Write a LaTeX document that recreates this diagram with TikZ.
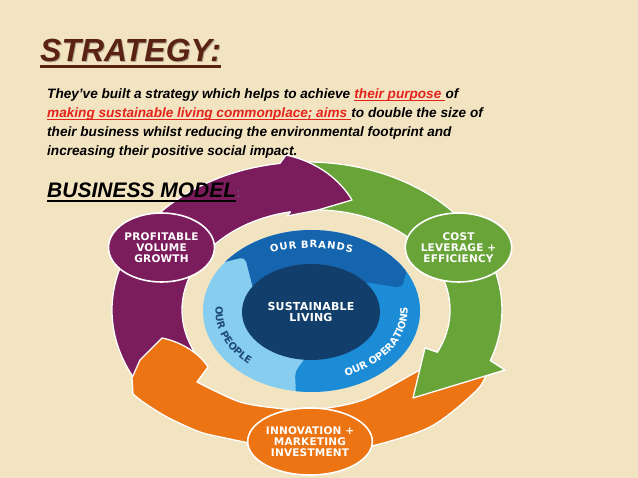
\documentclass[tikz,border=0pt]{standalone}
\usepackage{fontspec}
\setmainfont{Liberation Sans}
\newfontfamily\lab[LetterSpace=2]{DejaVu Sans}
\newfontfamily\dv{DejaVu Sans}
\usetikzlibrary{decorations.text,shapes.geometric,calc}
\definecolor{bg}{HTML}{F2E3C1}
\definecolor{titleC}{HTML}{5A2213}
\definecolor{redT}{HTML}{E5231B}
\definecolor{purpleC}{HTML}{7B1C5C}
\definecolor{greenC}{HTML}{69A438}
\definecolor{orangeC}{HTML}{EC7412}
\definecolor{darkB}{HTML}{1565AE}
\definecolor{medB}{HTML}{1C8CD6}
\definecolor{lightB}{HTML}{86CDEF}
\definecolor{navyB}{HTML}{123E6B}
\definecolor{peopleT}{HTML}{1F4A78}
\begin{document}
\begin{tikzpicture}[x=1pt,y=1pt,
  band/.style={draw=white, line width=1.3pt, line join=round},
  bubble/.style={ellipse, draw=white, line width=1.6pt, minimum width=106pt, minimum height=69pt, inner sep=0pt,
     text=white, align=center, font=\lab\bfseries\fontsize{10.5}{11}\selectfont},
  bodytext/.style={anchor=base west, inner sep=0pt, font=\fontsize{13.6}{19}\selectfont\bfseries\itshape},
  redtext/.style={bodytext, text=redT},
  redline/.style={redT, line width=0.9pt},
  titlefont/.style={anchor=base west, inner sep=0pt, font=\fontsize{32}{36}\selectfont\bfseries\itshape}]
\useasboundingbox (0,0) rectangle (638,478);
\fill[bg] (0,0) rectangle (638,478);

\coordinate (Oo) at (307,168);
\coordinate (Oi) at (316,168);
\coordinate (Rc) at (311.5,167);

% green arrow
\path[band, fill=greenC] ($(Oo)+(95:195 and 148)$) arc[start angle=95, end angle=-20, x radius=195, y radius=148]
  -- (505,108) -- (413,80) -- (425,130) -- ($(Oi)+(-25:134 and 100)$)
  arc[start angle=-25, end angle=95, x radius=134, y radius=100] -- cycle;

% purple arrow
\path[band, fill=purpleC] ($(Oo)+(215:195 and 148)$) arc[start angle=215, end angle=98, x radius=195, y radius=148]
  -- (286,323) .. controls (318,316) and (340,298) .. (352,278) -- (318,268) -- (287,262)
  -- ($(Oi)+(101:134 and 100)$) arc[start angle=101, end angle=213, x radius=134, y radius=100] -- cycle;

% orange arrow
\path[band, fill=orangeC] plot[smooth] coordinates {(487,107) (477,88) (430,51) (363,30) (310,26) (260,33) (230,39) (200,46) (167,61) (143,76) (133,84)}
  -- (132,100) -- (140,118) -- (162,140) .. controls (182,136) and (200,124) .. (208,111)
  -- plot[smooth] coordinates {(197,96) (217,86) (240,76) (267,71) (310,68) (363,78) (420,108) (440,116)} -- cycle;

% green head on top
\fill[greenC] ($(Oo)+(-14:195 and 148)$) arc[start angle=-14, end angle=-20, x radius=195, y radius=148]
  -- (505,108) -- (413,80) -- (425,130) -- ($(Oi)+(-25:134 and 100)$)
  arc[start angle=-25, end angle=-19, x radius=134, y radius=100] -- cycle;
\draw[white, line width=1.3pt, line join=round] ($(Oo)+(-14:195 and 148)$) arc[start angle=-14, end angle=-20, x radius=195, y radius=148]
  -- (505,108) -- (413,80) -- (425,130) -- ($(Oi)+(-25:134 and 100)$)
  arc[start angle=-25, end angle=-19, x radius=134, y radius=100];

% bubbles
\node[bubble, fill=purpleC] (pvg) at (161.5,230.5) {PROFITABLE\\VOLUME\\GROWTH};
\node[bubble, fill=greenC] (cle) at (458.5,230.5) {COST\\LEVERAGE +\\EFFICIENCY};
\node[bubble, fill=orangeC, minimum height=67pt] (imi) at (310,36.5) {INNOVATION +\\MARKETING\\INVESTMENT};

% blue ring
\begin{scope}
\clip (Rc) ellipse [x radius=108.5, y radius=81];
\fill[lightB] (Rc) ellipse [x radius=108.5, y radius=81];
\fill[medB, rounded corners=5pt] (311,167) -- (365,196) -- (395,215) -- (440,240) -- (440,58) -- (297,58) -- (295,106) -- (306,121) -- cycle;
\fill[darkB, rounded corners=5pt] (200,210) -- (245,221) -- (256,178) -- (311,167) -- (365,196) -- (402,190) -- (409,216) -- (409,278) -- (200,278) -- cycle;
\end{scope}
\node[ellipse, fill=navyB, minimum width=138pt, minimum height=96pt, inner sep=0pt,
  text=white, align=center, font=\lab\bfseries\fontsize{11}{11}\selectfont] (core) at (311,166) {SUSTAINABLE\\LIVING};

% ring labels
\path[decorate, decoration={text along path, text align=center,
  text={|\dv\bfseries\fontsize{10}{11}\selectfont\color{white}|{O\kern0.9pt}{U\kern0.9pt}{R\kern0.9pt} {B\kern0.9pt}{R\kern0.9pt}{A\kern0.9pt}{N\kern0.9pt}{D\kern0.9pt}{S}}}]
  ($(Rc)+(150:105 and 63)$) arc[start angle=150, end angle=30, x radius=105, y radius=63];
\path[decorate, decoration={text along path, text align=center,
  text={|\dv\bfseries\fontsize{10}{11}\selectfont\color{white}|OUR OPERATIONS}}]
  ($(Rc)+(-88:96 and 70)$) arc[start angle=-88, end angle=28, x radius=96, y radius=70];
\path[decorate, decoration={text along path, text align=center,
  text={|\dv\bfseries\fontsize{10}{11}\selectfont\color{peopleT}|OUR PEOPLE}}]
  ($(Rc)+(147:96 and 71)$) arc[start angle=147, end angle=253, x radius=96, y radius=71];

% title and texts
\node[titlefont, text=black, opacity=0.25] (titleshadow) at (41,415) {STRATEGY:};
\node[titlefont, text=titleC] (title) at (40,416) {STRATEGY:};
\draw[titleC, line width=2.6pt] ([yshift=-4.5pt]title.base west) -- ([yshift=-4.5pt]title.base east);

\node[bodytext] (l1a) at (47,379.7) {They’ve built a strategy which helps to achieve\ \null};
\node[redtext] (l1b) at (l1a.base east) {their purpose\ \null};
\node[bodytext] (l1c) at (l1b.base east) {of};
\draw[redline] ([yshift=-2pt]l1b.base west) -- ([yshift=-2pt]l1b.base east);

\node[redtext] (l2a) at (47,360.7) {making sustainable living commonplace; aims\ \null};
\node[bodytext] (l2b) at (l2a.base east) {to double the size of};
\draw[redline] ([yshift=-2pt]l2a.base west) -- ([yshift=-2pt]l2a.base east);

\node[bodytext] (l3) at (47,341.7) {their business whilst reducing the environmental footprint and};
\node[bodytext] (l4) at (47,322.7) {increasing their positive social impact.};

\node[anchor=base west, inner sep=0pt, font=\fontsize{21}{24}\selectfont\bfseries\itshape] (bm) at (47,280) {BUSINESS MODEL};
\draw[black, line width=1.6pt] ([yshift=-3pt]bm.base west) -- ([yshift=-3pt]bm.base east);
\node[anchor=base west, inner sep=0pt, text=black!55, font=\fontsize{13}{15}\selectfont] (colon) at (bm.base east) {:};
\end{tikzpicture}
\end{document}
